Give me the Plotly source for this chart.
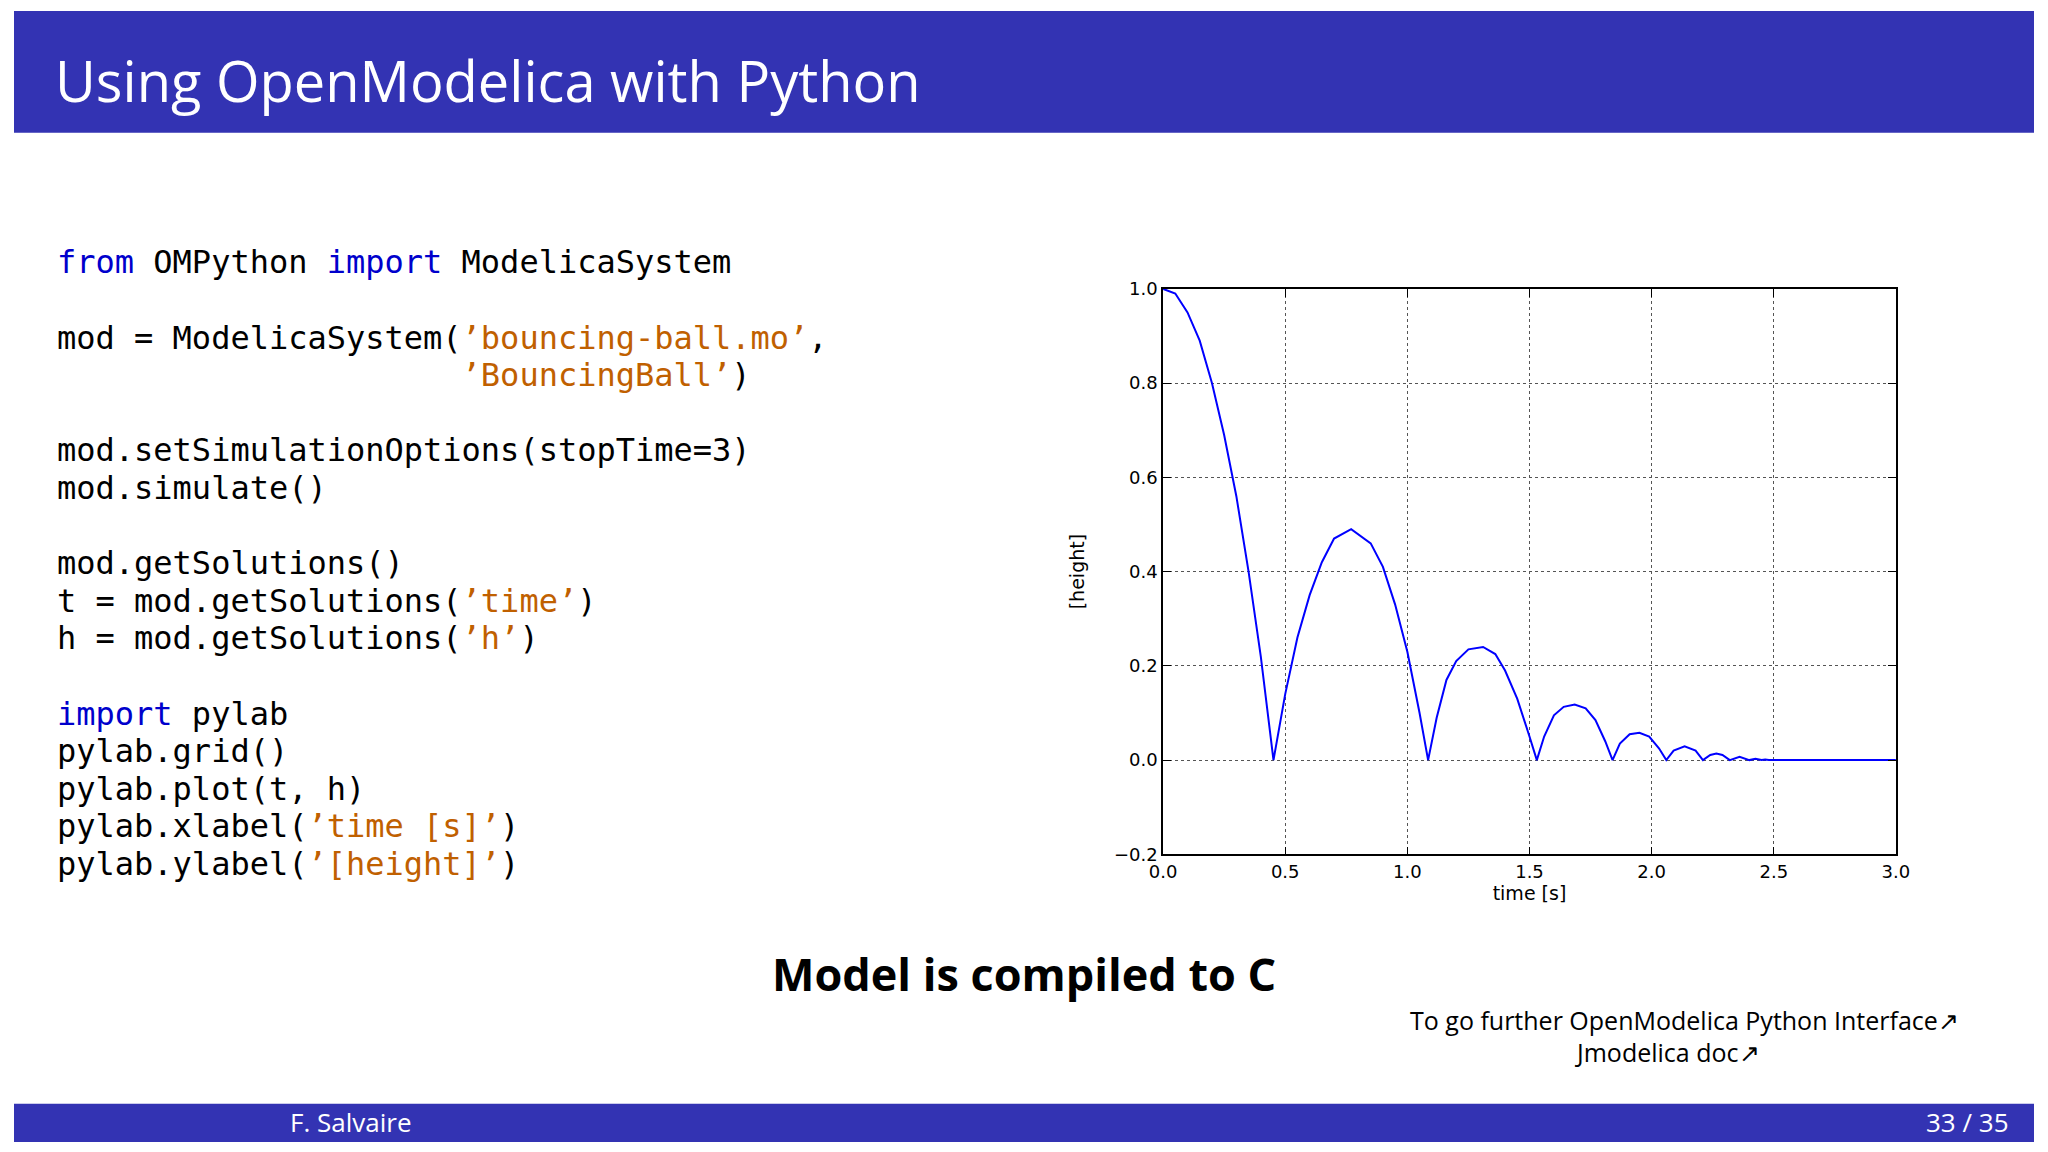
import plotly.graph_objects as go

# bouncing ball height
t = [0.0, 0.05, 0.1, 0.15, 0.2, 0.25, 0.3, 0.35, 0.4, 0.452,
     0.5, 0.55, 0.6, 0.65, 0.7, 0.77, 0.85, 0.9, 0.95, 1.0, 1.05, 1.085,
     1.12, 1.16, 1.2, 1.25, 1.31, 1.36, 1.4, 1.45, 1.5, 1.53,
     1.56, 1.6, 1.64, 1.685, 1.73, 1.77, 1.81, 1.84,
     1.87, 1.91, 1.95, 1.99, 2.03, 2.06,
     2.09, 2.135, 2.18, 2.21,
     2.24, 2.265, 2.29, 2.32,
     2.36, 2.40, 2.425, 2.45, 2.465, 2.48, 2.6, 3.0]
h = [1.0, 0.99, 0.95, 0.89, 0.80, 0.69, 0.56, 0.40, 0.22, 0.0,
     0.14, 0.26, 0.35, 0.42, 0.47, 0.49, 0.46, 0.41, 0.33, 0.23, 0.10, 0.0,
     0.09, 0.17, 0.21, 0.235, 0.24, 0.225, 0.19, 0.13, 0.05, 0.0,
     0.05, 0.095, 0.113, 0.118, 0.11, 0.085, 0.04, 0.0,
     0.035, 0.055, 0.058, 0.05, 0.025, 0.0,
     0.02, 0.029, 0.02, 0.0,
     0.011, 0.014, 0.011, 0.0,
     0.007, 0.0, 0.003, 0.0, 0.001, 0.0, 0.0, 0.0]

x_ticks = [0.0, 0.5, 1.0, 1.5, 2.0, 2.5, 3.0]
y_ticks = [-0.2, 0.0, 0.2, 0.4, 0.6, 0.8, 1.0]
y_tick_text = ["\u22120.2", "0.0", "0.2", "0.4", "0.6", "0.8", "1.0"]

KW = "#0000CC"
ST = "#C06000"
code_lines = [
    [("from", "k"), (" OMPython ", "n"), ("import", "k"), (" ModelicaSystem", "n")],
    [],
    [("mod = ModelicaSystem(", "n"), ("’bouncing-ball.mo’", "s"), (",", "n")],
    [("                     ", "n"), ("’BouncingBall’", "s"), (")", "n")],
    [],
    [("mod.setSimulationOptions(stopTime=3)", "n")],
    [("mod.simulate()", "n")],
    [],
    [("mod.getSolutions()", "n")],
    [("t = mod.getSolutions(", "n"), ("’time’", "s"), (")", "n")],
    [("h = mod.getSolutions(", "n"), ("’h’", "s"), (")", "n")],
    [],
    [("import", "k"), (" pylab", "n")],
    [("pylab.grid()", "n")],
    [("pylab.plot(t, h)", "n")],
    [("pylab.xlabel(", "n"), ("’time [s]’", "s"), (")", "n")],
    [("pylab.ylabel(", "n"), ("’[height]’", "s"), (")", "n")],
]


def render(segs):
    out = ""
    for txt, kind in segs:
        txt = txt.replace(" ", "&nbsp;")
        if kind == "k":
            out += f'<span style="color:{KW}">{txt}</span>'
        elif kind == "s":
            out += f'<span style="color:{ST}">{txt}</span>'
        else:
            out += txt
    return out


fig = go.Figure(go.Scatter(x=t, y=h, mode="lines", line=dict(color="#0000FF", width=2), showlegend=False))

W, H = 2048, 1152
axis_common = dict(showline=True, linecolor="black", linewidth=1.5, mirror="ticks",
                   ticks="inside", ticklen=8, tickcolor="black",
                   showgrid=True, gridcolor="#555555", griddash="dot", gridwidth=1,
                   zeroline=False, tickfont=dict(family="DejaVu Sans", size=18, color="black"))
fig.update_layout(
    width=W, height=H, margin=dict(l=0, r=0, t=0, b=0),
    paper_bgcolor="white", plot_bgcolor="white",
    xaxis=dict(range=[0, 3], tickvals=x_ticks, ticktext=[f"{v:.1f}" for v in x_ticks],
               domain=[1165 / W, 1908 / W],
               title=dict(text="time [s]", font=dict(family="DejaVu Sans", size=19, color="black"), standoff=4),
               **axis_common),
    yaxis=dict(range=[-0.2, 1.0], tickvals=y_ticks, ticktext=y_tick_text,
               domain=[1 - 859 / H, 1 - 283 / H],
               title=dict(text="[height]", font=dict(family="DejaVu Sans", size=19, color="black"), standoff=24),
               **axis_common),
    shapes=[
        dict(type="rect", xref="paper", yref="paper", x0=0, x1=1, y0=1 - 124 / H, y1=1,
             fillcolor="#3333B3", line=dict(width=0), layer="below"),
        dict(type="rect", xref="paper", yref="paper", x0=0, x1=1, y0=0, y1=39 / H,
             fillcolor="#3333B3", line=dict(width=0), layer="below"),
    ],
)

ann = []
ann.append(dict(text="Using OpenModelica with Python", x=40 / W, y=1 - 70 / H, xanchor="left", yanchor="middle",
                font=dict(family="Open Sans", size=56, color="white")))
line_h = 38.3
for i, segs in enumerate(code_lines):
    if not segs:
        continue
    ann.append(dict(text=render(segs), x=42 / W, y=1 - (256 + i * line_h) / H,
                    xanchor="left", yanchor="middle",
                    font=dict(family="DejaVu Sans Mono", size=32, color="black")))
ann.append(dict(text="<b>Model is compiled to C</b>", x=1024 / W, y=1 - 980 / H, xanchor="center", yanchor="middle",
                font=dict(family="Open Sans", size=45, color="black")))
ann.append(dict(text="To go further OpenModelica Python Interface\u2197", x=1694 / W, y=1 - 1028 / H,
                xanchor="center", yanchor="middle", font=dict(family="Open Sans", size=25, color="black")))
ann.append(dict(text="Jmodelica doc\u2197", x=1676 / W, y=1 - 1060 / H,
                xanchor="center", yanchor="middle", font=dict(family="Open Sans", size=25, color="black")))
ann.append(dict(text="F. Salvaire", x=342 / W, y=1 - 1132 / H, xanchor="center", yanchor="middle",
                font=dict(family="Open Sans", size=26, color="white")))
ann.append(dict(text="33 / 35", x=2025 / W, y=1 - 1132 / H, xanchor="right", yanchor="middle",
                font=dict(family="Open Sans", size=26, color="white")))
for a in ann:
    a.update(xref="paper", yref="paper", showarrow=False)
fig.update_layout(annotations=ann)

post = """
var s=document.createElement('style');
s.innerHTML='html,body{margin:0!important;padding:0!important;overflow:hidden;} body>div{margin:0!important;padding:0!important;}';
document.head.appendChild(s);
"""
fig.write_html("out.html", post_script=post, config={"displayModeBar": False})
